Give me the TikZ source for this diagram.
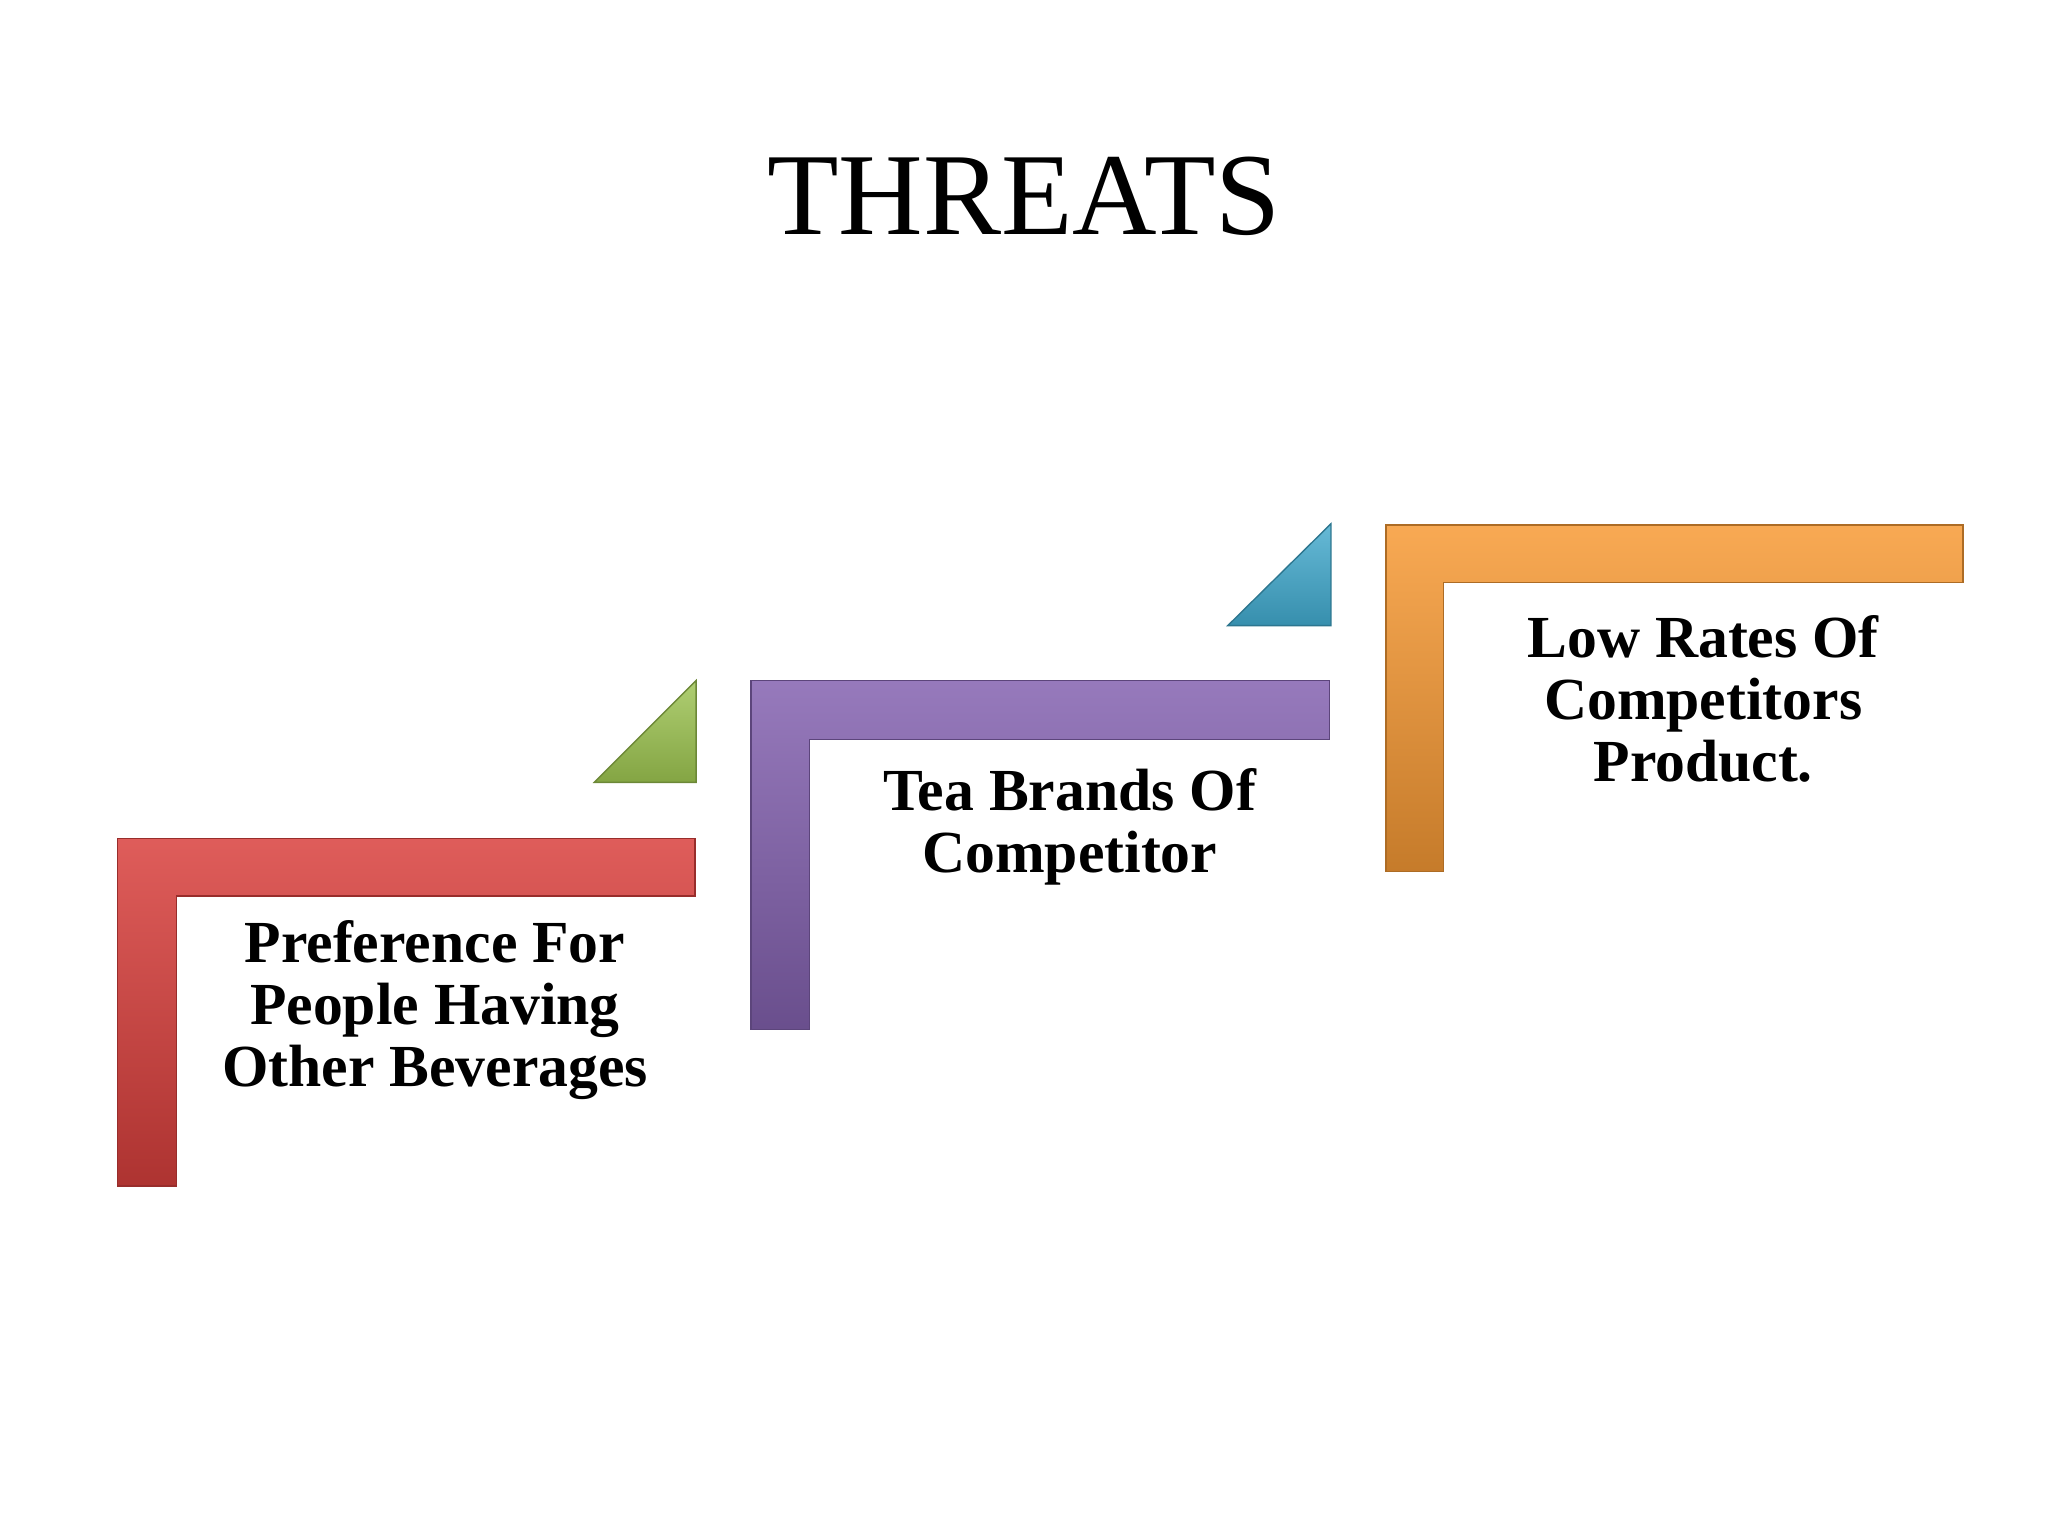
\documentclass[tikz,border=0pt]{standalone}
\usepackage{fontspec}
\setmainfont{Liberation Serif}
\begin{document}
\begin{tikzpicture}[x=0.02cm,y=-0.02cm,
  bar/.style={draw=#1!70!black,line width=0.6pt,top color=#1!85!white,bottom color=#1!80!black},
  tri/.style={draw=#1!70!black,line width=0.6pt,top color=#1!80!white,bottom color=#1!85!black},
  lbl/.style={font=\bfseries\fontsize{26}{27}\selectfont,align=center}]
\useasboundingbox (0,0) rectangle (1568,1176);
\definecolor{cred}{HTML}{D9403D}
\definecolor{cpur}{HTML}{8462B0}
\definecolor{cora}{HTML}{F79A35}
\definecolor{cgrn}{HTML}{9BC24F}
\definecolor{cblu}{HTML}{40A8CC}
\node[font=\fontsize{51}{53}\selectfont] (title) at (784,150) {THREATS};
% red
\path[bar=cred] (90,642) -- (532,642) -- (532,686) -- (135,686) -- (135,908) -- (90,908) -- cycle;
\path[tri=cgrn] (455,599) -- (533,599) -- (533,521) -- cycle;
\node[lbl] (t1) at (333,773) {Preference For\\People Having\\Other Beverages};
% purple
\path[bar=cpur] (575,521) -- (1018,521) -- (1018,566) -- (620,566) -- (620,788) -- (575,788) -- cycle;
\path[tri=cblu] (940,479) -- (1019,479) -- (1019,401) -- cycle;
\node[lbl] (t2) at (819,633) {Tea Brands Of\\Competitor};
% orange
\path[bar=cora] (1061,402) -- (1503,402) -- (1503,446) -- (1105,446) -- (1105,667) -- (1061,667) -- cycle;
\node[lbl] (t3) at (1304,535) {Low Rates Of\\Competitors\\Product.};
\end{tikzpicture}
\end{document}
